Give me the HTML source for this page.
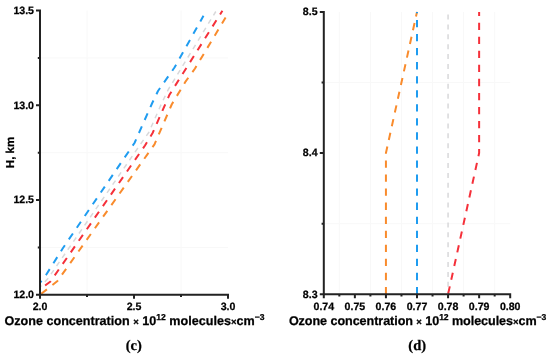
<!DOCTYPE html>
<html><head><meta charset="utf-8"><title>Ozone concentration profiles</title>
<style>
html,body{margin:0;padding:0;background:#fff;width:550px;height:356px;overflow:hidden}
svg{display:block}
text{font-family:"Liberation Sans",Arial,sans-serif;text-rendering:geometricPrecision;stroke:#000;stroke-width:0.25px;paint-order:stroke}
</style></head>
<body>
<svg width="550" height="356" viewBox="0 0 550 356">
<path d="M87 10.5V294.8M181 10.5V294.8M40 247.42H228M40 152.65H228M40 57.88H228M339.33 11.9V294.2M370.4 11.9V294.2M401.47 11.9V294.2M432.53 11.9V294.2M463.6 11.9V294.2M494.67 11.9V294.2M323.8 223.63H510.2M323.8 82.48H510.2" stroke="#f8f8f8" stroke-width="1" fill="none"/>
<defs><clipPath id="cl"><rect x="40" y="0" width="200" height="294.8"/></clipPath><clipPath id="cr"><rect x="323.8" y="0" width="200" height="294.2"/></clipPath></defs>
<path d="M36 291 L40 287 L48 278.5 L141 143.5 L148.8 132.5 L161.3 104 L168.3 89.5 L215.8 11.5" stroke="#d8d8da" stroke-width="1.5" fill="none" stroke-dasharray="5 4.88" stroke-dashoffset="7.07" stroke-linejoin="round" clip-path="url(#cl)"/>
<path d="M36 289.5 L40 282.8 L46 275 L63 248 L134.5 143 L152 103.5 L158 91 L174.5 67.5 L203.5 15.8" stroke="#1f9cf0" stroke-width="2.0" fill="none" stroke-dasharray="7.2 6.98" stroke-dashoffset="10.99" stroke-linejoin="round" clip-path="url(#cl)"/>
<path d="M36 292.5 L39 290 L50.5 281.5 L145 145.5 L152.6 133 L169.5 94.7 L222.4 10.8" stroke="#f5303a" stroke-width="2.0" fill="none" stroke-dasharray="7.2 6.87" stroke-dashoffset="2.56" stroke-linejoin="round" clip-path="url(#cl)"/>
<path d="M40 294.8 L57.5 281 L154.5 144.3 L171.7 104.5 L185.7 81.3 L195 68.5 L225.6 17.5" stroke="#f98b2c" stroke-width="2.0" fill="none" stroke-dasharray="7.2 7.02" stroke-dashoffset="12.62" stroke-linejoin="round" clip-path="url(#cl)"/>
<path d="M448.07 294.2 L448.07 11.9" stroke="#d8d8da" stroke-width="1.5" fill="none" stroke-dasharray="5 4.9" stroke-dashoffset="2.5" stroke-linejoin="round" clip-path="url(#cr)"/>
<path d="M385.93 294.2 L385.93 153.05 L417 11.9" stroke="#f98b2c" stroke-width="2.0" fill="none" stroke-dasharray="7.3 6.75" stroke-dashoffset="0" stroke-linejoin="round" clip-path="url(#cr)"/>
<path d="M417 294.2 L417 11.9" stroke="#1f9cf0" stroke-width="2.0" fill="none" stroke-dasharray="7.3 6.75" stroke-dashoffset="0" stroke-linejoin="round" clip-path="url(#cr)"/>
<path d="M448.07 294.2 L479.13 153.05 L479.13 11.9" stroke="#f5303a" stroke-width="2.0" fill="none" stroke-dasharray="7.3 6.75" stroke-dashoffset="-0.7" stroke-linejoin="round" clip-path="url(#cr)"/>
<path d="M40 9.5V294.8H229M36 294.8H40M36 200.03H40M36 105.27H40M36 10.5H40M37.8 247.42H40M37.8 152.65H40M37.8 57.88H40M40 294.8V298.8M134 294.8V298.8M228 294.8V298.8M87 294.8V297M181 294.8V297M323.8 10.9V294.2H511.2M319.8 294.2H323.8M319.8 153.05H323.8M319.8 11.9H323.8M321.6 223.63H323.8M321.6 82.48H323.8M323.8 294.2V298.2M354.87 294.2V298.2M385.93 294.2V298.2M417 294.2V298.2M448.07 294.2V298.2M479.13 294.2V298.2M510.2 294.2V298.2M339.33 294.2V296.4M370.4 294.2V296.4M401.47 294.2V296.4M432.53 294.2V296.4M463.6 294.2V296.4M494.67 294.2V296.4" stroke="#222" stroke-width="2" fill="none"/>
<g font-size="10.6px" font-weight="bold" fill="#000"><text x="34" y="298.1" text-anchor="end">12.0</text><text x="34" y="203.33" text-anchor="end">12.5</text><text x="34" y="108.57" text-anchor="end">13.0</text><text x="34" y="13.8" text-anchor="end">13.5</text><text x="40" y="310" text-anchor="middle">2.0</text><text x="134" y="310" text-anchor="middle">2.5</text><text x="228" y="310" text-anchor="middle">3.0</text><text x="317.6" y="297.5" text-anchor="end">8.3</text><text x="317.6" y="156.35" text-anchor="end">8.4</text><text x="317.6" y="15.2" text-anchor="end">8.5</text><text x="323.8" y="310" text-anchor="middle">0.74</text><text x="354.87" y="310" text-anchor="middle">0.75</text><text x="385.93" y="310" text-anchor="middle">0.76</text><text x="417" y="310" text-anchor="middle">0.77</text><text x="448.07" y="310" text-anchor="middle">0.78</text><text x="479.13" y="310" text-anchor="middle">0.79</text><text x="510.2" y="310" text-anchor="middle">0.80</text></g>
<text x="134.5" y="325.4" text-anchor="middle" font-size="12.6px" font-weight="bold" fill="#000">Ozone concentration <tspan font-size="9.5px">×</tspan> 10<tspan font-size="8.6px" dy="-5.8">12</tspan><tspan dy="5.8"> molecules</tspan><tspan font-size="9.5px">×</tspan>cm<tspan font-size="8.6px" dy="-5.8">−3</tspan></text>
<text x="417.6" y="325.4" text-anchor="middle" textLength="257.4" lengthAdjust="spacing" font-size="12.6px" font-weight="bold" fill="#000">Ozone concentration <tspan font-size="9.5px">×</tspan> 10<tspan font-size="8.6px" dy="-5.8">12</tspan><tspan dy="5.8"> molecules</tspan><tspan font-size="9.5px">×</tspan>cm<tspan font-size="8.6px" dy="-5.8">−3</tspan></text>
<text transform="translate(14.3,152.5) rotate(-90)" text-anchor="middle" font-size="11.5px" font-weight="bold" fill="#000">H, km</text>
<text x="133.7" y="349.8" text-anchor="middle" style="font-family:'Liberation Serif',serif" font-size="14.5px" font-weight="bold" fill="#000">(c)</text>
<text x="417.2" y="349.8" text-anchor="middle" style="font-family:'Liberation Serif',serif" font-size="14.5px" font-weight="bold" fill="#000">(d)</text>
</svg>
</body></html>
